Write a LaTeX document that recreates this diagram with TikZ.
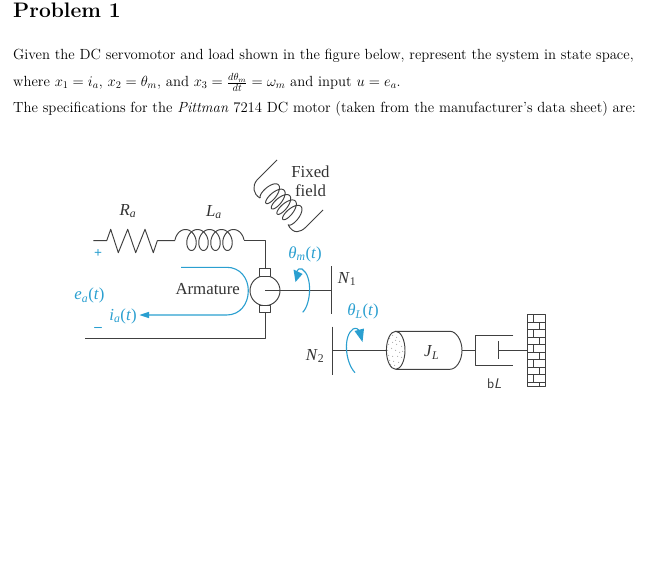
\documentclass[tikz,border=0pt]{standalone}
\usepackage[no-math]{fontspec}
\usepackage{fix-cm}
\newfontfamily\lib{Liberation Serif}
\definecolor{wireg}{HTML}{404040}
\definecolor{bluec}{HTML}{2A9FD0}
\definecolor{inkc}{HTML}{333333}
\tikzset{
 wire/.style={draw=wireg,line width=0.95pt,line join=round},
 bluel/.style={draw=bluec,line width=1.1pt},
 bluetip/.style={fill=bluec,draw=none},
 body/.style={anchor=base west,inner sep=0pt,font=\fontsize{14.7}{17}\selectfont,text=black},
 lab/.style={inner sep=0pt,text=inkc,font=\lib\fontsize{16.8}{18}\selectfont},
 blab/.style={inner sep=0pt,text=bluec,font=\lib\fontsize{16.8}{18}\selectfont},
}
\newcommand{\ivar}[2]{\textit{#1}\textsubscript{\textit{#2}}}
\begin{document}
\begin{tikzpicture}[x=1pt,y=-1pt]
\useasboundingbox (0,0) rectangle (660,561);
% text block
\node[body,font=\bfseries\fontsize{21}{24}\selectfont] (title) at (13,18) {Problem 1};
\node[body] (l1) at (13,60) {Given the DC servomotor and load shown in the figure below, represent the system in state space,};
\node[body] (l2) at (13,86.5) {where $x_1=i_a$, $x_2=\theta_m$, and $x_3=\frac{d\theta_m}{dt}=\omega_m$ and input $u=e_a$.};
\node[body] (l3) at (13,113) {The specifications for the \textit{Pittman} 7214 DC motor (taken from the manufacturer's data sheet) are:};
% circuit
\coordinate (wl) at (93.3,240.7);
\draw[wire] (wl) -- (106.7,240.7) -- (110.7,229.3) -- (118.3,252.7) -- (127.7,229.3) -- (135.7,252.7) -- (145,229.3) -- (153.3,252.7) -- (157.3,240.7) -- (175,240.7);
\draw[wire,smooth] plot[domain=-90:1530,samples=160,variable=\t] ({185.5+\t/360*12+7.5*sin(\t)},{240-10.5*cos(\t)});
\draw[wire] (244,240.7) -- (265,240.7) -- (265,268.3);
\draw[wire] (265,312.7) -- (265,338.3) -- (85,338.3);
% field coil
\draw[wire] (277,160) -- (257,180) .. controls (252,186) and (253,194) .. (260,198);
\draw[wire,smooth] plot[domain=180:1980,samples=200,variable=\t] ({268+0.72*((\t-180)/360*7.8+4.6*sin(\t))+0.69*11*cos(\t)},{190+0.69*((\t-180)/360*7.8+4.6*sin(\t))-0.72*11*cos(\t)});
\draw[wire] (288,224.5) .. controls (290,229) and (294,232) .. (297,231.7) .. controls (300,231.5) and (303,230) .. (306,227) -- (323,210);
% motor
\draw[wire] (265,290.7) circle[radius=15];
\draw[wire,fill=white] (259,268.3) rectangle (270.7,276);
\draw[wire,fill=white] (259,305) rectangle (270.7,312.7);
\draw[wire] (265,290.7) -- (331.7,290.7);
\draw[wire] (331.7,266) -- (331.7,314);
\draw[wire] (332,326.7) -- (332,375);
\draw[wire] (332,350.3) -- (396,350.3);
% load cylinder
\draw[wire] (395.7,331.3) -- (450,331.3) .. controls (456,331.3) and (462,340) .. (462,350.3) .. controls (462,361) and (456,369.3) .. (450,369.3) -- (395.7,369.3);
\draw[wire,fill=white] (395.7,350.3) ellipse[x radius=9.3,y radius=19];
\foreach \dx/\dy in {-6/-12,-3/-15,1/-13,4/-9,-7/-6,-3/-8,1/-6,6/-4,-8/0,-4/-2,0/0,4/2,7/1,-7/5,-3/6,2/6,6/7,-6/10,-2/11,3/12,0/-10,-1/15,-5/14}
  \fill[wireg!80] (395.7+\dx,350.3+\dy) circle[radius=0.45];
% damper
\draw[wire] (462,350.3) -- (475.7,350.3);
\draw[wire] (513.3,335.3) -- (475.7,335.3) -- (475.7,365.7) -- (513.3,365.7);
\draw[wire] (498,341) -- (498,359.3);
\draw[wire] (498,350.3) -- (527.3,350.3);
% wall
\draw[wire,line width=1.2pt,fill=white] (527.3,314.7) rectangle (545.7,386.7);
\foreach \yy in {322,329.5,337,344.5,352,359.5,367,374.5,382}
  \draw[draw=wireg,line width=0.4pt] (527.3,\yy) -- (545.7,\yy);
\foreach \yy [count=\ii] in {314.7,322,329.5,337,344.5,352,359.5,367,374.5,382}{
  \pgfmathsetmacro{\xa}{isodd(\ii)?533.5:539.5}
  \pgfmathsetmacro{\ye}{\yy+7.4}
  \draw[draw=wireg,line width=0.4pt] (\xa,\yy) -- (\xa,{min(\ye,386.7)});
}
% blue
\draw[bluel] (181,267.3) -- (226.7,267.3) .. controls (240,267.3) and (248.3,278) .. (248.3,290.7) .. controls (248.3,304) and (240,315) .. (226.7,315) -- (148,315);
\fill[bluetip] (139.5,315) -- (149,311.8) -- (149,318.2) -- cycle;
% theta_m arrow
\draw[bluel] (302.7,312.3) .. controls (311,304) and (313,276) .. (302,269) .. controls (300,268) and (298,268.5) .. (296,273);
\fill[bluetip] (295.5,282) -- (293.5,269.5) -- (302.5,274) -- cycle;
% theta_L arrow
\draw[bluel] (355,372.7) .. controls (345,362) and (343,336) .. (353,329) .. controls (356,327.5) and (358,328.5) .. (360,332);
\fill[bluetip] (362.5,342) -- (354.5,331) -- (364,328.5) -- cycle;
% labels
\node[lab] (ff1) at (310.5,172) {Fixed};
\node[lab] (ff2) at (310.5,190.5) {field};
\node[lab] (ra) at (128,211) {\ivar{R}{a}};
\node[lab] (la) at (214,212) {\ivar{L}{a}};
\node[blab,font=\lib\bfseries\fontsize{14}{14}\selectfont] (plus) at (98,254) {+};
\node[blab,font=\lib\bfseries\fontsize{15}{15}\selectfont] (minus) at (98,329.5) {\textendash};
\node[blab] (ea) at (89.5,295.5) {\textit{e}\textsubscript{\textit{a}}(\textit{t})};
\node[blab] (ia) at (123,316) {\textit{i}\textsubscript{\textit{a}}(\textit{t})};
\node[lab] (arm) at (207.7,289.3) {Armature};
\node[blab] (tm) at (305,254) {\textit{θ}\textsubscript{\textit{m}}(\textit{t})};
\node[blab] (tl) at (363,311.7) {\textit{θ}\textsubscript{\textit{L}}(\textit{t})};
\node[lab] (n1) at (347,279) {\textit{N}\textsubscript{1}};
\node[lab] (n2) at (315,356) {\textit{N}\textsubscript{2}};
\node[lab] (jl) at (431.7,352.7) {\ivar{J}{L}};
\node[lab,font=\sffamily\fontsize{14}{14}\selectfont] (bl) at (494.3,383.5) {b\textit{L}};
\end{tikzpicture}
\end{document}
